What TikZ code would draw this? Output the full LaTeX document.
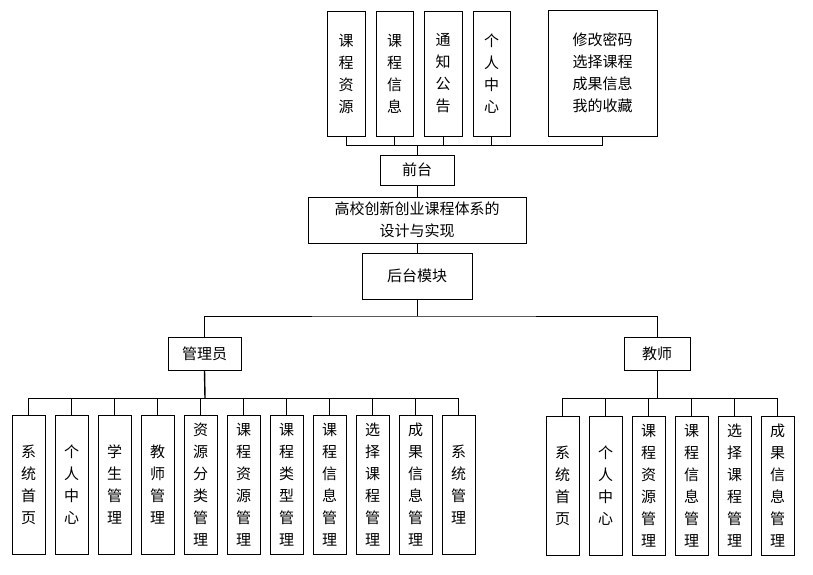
\documentclass[tikz,border=0pt]{standalone}
\usepackage{fontspec}
\newfontfamily\cjk{Noto Sans CJK SC}
\begin{document}
\begin{tikzpicture}[x=1pt,y=-1pt,line width=0.8pt,
  bx/.style={draw,fill=white,font=\cjk\fontsize{15}{22}\selectfont,align=center,inner sep=0pt},
  ln/.style={draw}]
\useasboundingbox (0,0) rectangle (813,574);
\def\vb#1#2#3#4#5#6{\node[bx,minimum width=#3-#2,minimum height=#5-#4] (#1) at ({(#2+#3)/2},{(#4+#5)/2}) {#6};}
% top
\vb{t1}{327}{365}{11}{136}{课\\程\\资\\源}
\vb{t2}{376}{413}{11}{136}{课\\程\\信\\息}
\vb{t3}{424}{462}{11}{136}{通\\知\\公\\告}
\vb{t4}{473}{510}{11}{136}{个\\人\\中\\心}
\vb{t5}{548}{657}{10}{136}{修改密码\\选择课程\\成果信息\\我的收藏}
\vb{qt}{380}{454}{155}{185}{前台}
\vb{main}{308}{526}{197}{243}{高校创新创业课程体系的\\设计与实现}
\vb{ht}{362}{472}{253}{299}{后台模块}
\vb{gl}{168}{241}{337}{370}{管理员}
\vb{js}{624}{690}{337}{370}{教师}
\coordinate (tb) at (417,145);
\foreach \n in {t1,t2,t3,t4,t5}{\draw (\n.south) |- (tb);}
\draw (tb) -- (qt.north);
\draw (qt.south) -- (main.north);
\draw (main.south) -- (ht.north);
\coordinate (hb) at (417,316);
\draw (ht.south) -- (hb);
\draw (gl.north) |- (hb) -| (js.north);
% admin leaves
\coordinate (ab) at (205,398);
\foreach \i/\a/\t in {1/12/系\\统\\首\\页,2/55/个\\人\\中\\心,3/98/学\\生\\管\\理,4/141/教\\师\\管\\理,5/184/资\\源\\分\\类\\管\\理,6/227/课\\程\\资\\源\\管\\理,7/270/课\\程\\类\\型\\管\\理,8/313/课\\程\\信\\息\\管\\理,9/356/选\\择\\课\\程\\管\\理,10/399/成\\果\\信\\息\\管\\理,11/442/系\\统\\管\\理}{
  \vb{a\i}{\a}{\a+33}{415}{554}{\t}
  \draw (a\i.north) |- (ab);
}
\draw[line width=1.4pt] (gl.south) -- (ab);
\coordinate (jb) at (657,398);
\foreach \i/\a/\t in {1/546/系\\统\\首\\页,2/589/个\\人\\中\\心,3/632/课\\程\\资\\源\\管\\理,4/675/课\\程\\信\\息\\管\\理,5/718/选\\择\\课\\程\\管\\理,6/761/成\\果\\信\\息\\管\\理}{
  \vb{b\i}{\a}{\a+33}{416}{555}{\t}
  \draw (b\i.north) |- (jb);
}
\draw (js.south) -- (jb);
\end{tikzpicture}
\end{document}
